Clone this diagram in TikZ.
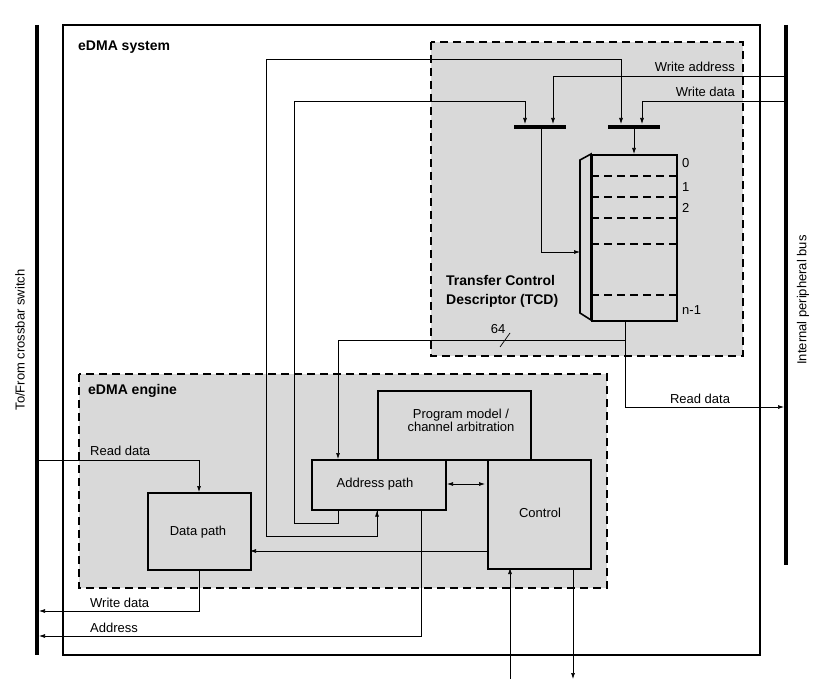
\documentclass[tikz,border=0pt]{standalone}
\usepackage{fontspec}
\setmainfont{Liberation Sans}
\usetikzlibrary{arrows.meta}
\begin{document}
\begin{tikzpicture}[x=1pt,y=-1pt,
  every node/.style={font=\fontsize{13}{15}\selectfont, inner sep=0pt},
  lbl/.style={font=\fontsize{14}{16}\selectfont\bfseries},
  sig/.style={line width=0.7pt, -{Latex[length=6pt,width=4pt]}},
  wire/.style={line width=0.7pt},
  bus/.style={line width=3.5pt},
  dbox/.style={draw, fill=gray!30, dash pattern=on 8pt off 5pt, line width=1.8pt},
  blk/.style={draw, fill=gray!30, line width=1.6pt}]
\useasboundingbox (0,0) rectangle (819,679);
% buses
\draw[bus] (37,25) coordinate (lb1) -- (37,655) coordinate (lb2);
\draw[bus] (786,25) -- (786,565);
\node[rotate=90] (lbl1) at (20,340) {To/From crossbar switch};
\node[rotate=90] (lbl2) at (803,300) {Internal peripheral bus};
% system box
\draw[line width=1.6pt] (63,25) rectangle (760,655);
\node[lbl, anchor=west] (sys) at (78,47) {eDMA system};
% TCD area
\draw[dbox] (431,42) rectangle (743,356);
\draw[dbox] (79,374) rectangle (607,588);
\node[lbl, anchor=west, align=left] (tcdl) at (446,291) {Transfer Control\\[3pt]Descriptor (TCD)};
% muxes
\draw[line width=4pt] (514,127) coordinate (b1l) -- (566,127) coordinate (b1r);
\draw[line width=4pt] (608,127) -- (660,127);
% register
\draw[blk] (580,160) -- (591,154) -- (591,320) -- (580,313) -- cycle;
\node[blk, minimum width=85pt, minimum height=166pt, anchor=north west] (tcd) at (591,154) {};
\foreach \yy in {176,197,218,244,295}
  \draw[line width=1.6pt, dash pattern=on 8pt off 5pt] (591,\yy) -- (676,\yy);
\node[anchor=west] (r0) at (682,163) {0};
\node[anchor=west] (r1) at (682,187) {1};
\node[anchor=west] (r2) at (682,208) {2};
\node[anchor=west] (rn) at (682,310) {n-1};
% engine blocks
\node[blk, minimum width=153pt, minimum height=69pt, anchor=north west] (prog) at (377,390) {};
\node[align=center, font=\fontsize{13}{12}\selectfont] (progt) at (461,420) {Program model /\\channel arbitration};
\node[blk, minimum width=134pt, minimum height=50pt, anchor=north west] (addr) at (311,459) {};
\node (addrt) at (375,484) {Address path};
\node[blk, minimum width=103pt, minimum height=109pt, anchor=north west] (ctrl) at (487,459) {};
\node (ctrlt) at (540,513) {Control};
\node[blk, minimum width=103pt, minimum height=77pt, anchor=north west] (data) at (147,492) {};
\node (datat) at (198,532) {Data path};
\node[lbl, anchor=west] (eng) at (88,391) {eDMA engine};
% wires TCD
\draw[sig] (addr.south -| 377,0) ++(0,0) coordinate (o1);
\draw[sig] (377,509) -- (377,536) -- (266,536) -- (266,59) -- (621,59) -- (621,124);
\draw[sig] (338,509) -- (338,523) -- (294,523) -- (294,101) -- (525,101) -- (525,124);
\draw[sig] (786,76) -- (553,76) -- (553,124);
\draw[sig] (786,101) -- (642,101) -- (642,124);
\node[anchor=east] (wa) at (735,67) {Write address};
\node[anchor=east] (wd) at (735,92) {Write data};
\draw[sig] (634,129) -- (tcd.north -| 634,0);
\draw[sig] (541,129) -- (541,252) -- (580,252);
\draw[sig] (625,320) -- (625,407) -- (784,407);
\node (rd1) at (700,399) {Read data};
\draw[sig] (625,340) -- (338,340) -- (338,459);
\draw[wire] (500,347) -- (510,333);
\node (n64) at (498,329) {64};
% engine wires
\draw[line width=0.7pt, {Latex[length=6pt,width=4pt]}-{Latex[length=6pt,width=4pt]}] (447,484) -- (485,484);
\draw[sig] (487,551) -- (250,551);
\draw[sig] (39,460) -- (199,460) -- (199,492);
\node[anchor=west] (rd2) at (90,451) {Read data};
\draw[sig] (199,569) -- (199,611) -- (39,611);
\node[anchor=west] (wd2) at (90,603) {Write data};
\draw[sig] (421,509) -- (421,636) -- (39,636);
\node[anchor=west] (ad) at (90,628) {Address};
\draw[sig] (510,679) -- (510,568);
\draw[sig] (573,568) -- (573,679);
\end{tikzpicture}
\end{document}
